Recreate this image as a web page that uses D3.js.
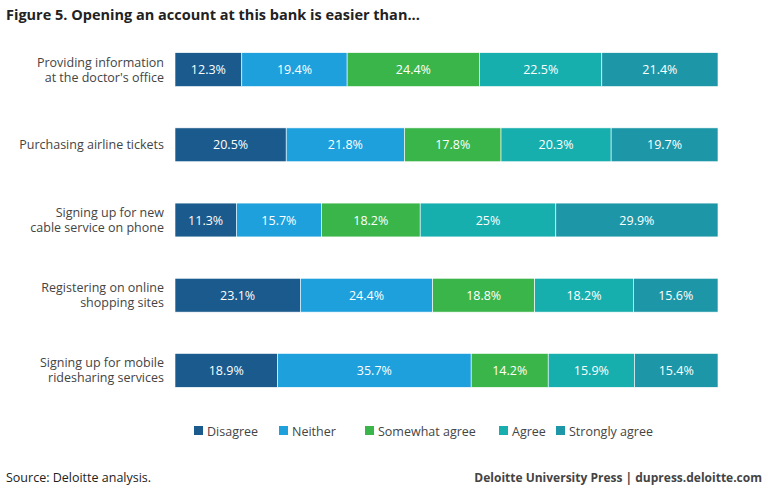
<!DOCTYPE html>
<html><head><meta charset="utf-8">
<script src="https://cdn.jsdelivr.net/npm/d3@7"></script>
<style>body{margin:0;background:#fff;font-family:"Open Sans",sans-serif;}</style>
</head><body><svg id="c" width="768" height="488"></svg>
<script>
var categories = [["Providing information", "at the doctor's office"], ["Purchasing airline tickets"],
    ["Signing up for new", "cable service on phone"], ["Registering on online", "shopping sites"],
    ["Signing up for mobile", "ridesharing services"]];
var seriesNames = ["Disagree", "Neither", "Somewhat agree", "Agree", "Strongly agree"];
var colors = ["#1a5a8c", "#1ea0dc", "#3ab54a", "#17aeae", "#1d97a8"];
var values = [
    [12.3, 19.4, 24.4, 22.5, 21.4],
    [20.5, 21.8, 17.8, 20.3, 19.7],
    [11.3, 15.7, 18.2, 25, 29.9],
    [23.1, 24.4, 18.8, 18.2, 15.6],
    [18.9, 35.7, 14.2, 15.9, 15.4]
];

var svg = d3.select("#c");
svg.append("text").attr("x", 6).attr("y", 20).attr("font-size", 14.5).attr("font-weight", "bold")
    .attr("fill", "#222").text("Figure 5. Opening an account at this bank is easier than...");

var x = d3.scaleLinear().domain([0, 100]).range([175, 718]);
var y = d3.scaleBand().domain(d3.range(categories.length)).range([32, 408]).paddingInner(0.55).paddingOuter(0.275);

categories.forEach(function (cat, i) {
    var row = values[i], total = d3.sum(row), acc = 0;
    var g = svg.append("g");
    row.forEach(function (v, j) {
        var x0 = x(acc / total * 100), x1 = x((acc + v) / total * 100);
        acc += v;
        g.append("rect").attr("x", x0).attr("y", y(i)).attr("width", x1 - x0).attr("height", y.bandwidth())
            .attr("fill", colors[j]).attr("stroke", "#fff").attr("stroke-width", 0.6);
        g.append("text").attr("x", (x0 + x1) / 2).attr("y", y(i) + y.bandwidth() / 2 + 4.5)
            .attr("text-anchor", "middle").attr("font-size", 12.5).attr("fill", "#fff").text(v + "%");
    });
    var cy = y(i) + y.bandwidth() / 2 + 4.5 - (cat.length - 1) * 7.5;
    cat.forEach(function (line, k) {
        svg.append("text").attr("text-anchor", "end").attr("font-size", 12.5).attr("fill", "#444")
            .attr("x", 164).attr("y", cy + k * 15).text(line);
    });
});

var legendX = [194, 279, 365, 499, 556];
seriesNames.forEach(function (n, j) {
    svg.append("rect").attr("x", legendX[j]).attr("y", 426).attr("width", 9).attr("height", 9).attr("fill", colors[j]);
    svg.append("text").attr("x", legendX[j] + 13).attr("y", 435.5).attr("font-size", 12.5).attr("fill", "#444").text(n);
});

svg.append("text").attr("x", 6).attr("y", 482).attr("font-size", 12.5).attr("fill", "#222").text("Source: Deloitte analysis.");
svg.append("text").attr("x", 762).attr("y", 482).attr("text-anchor", "end").attr("font-size", 12)
    .attr("font-weight", "bold").attr("fill", "#444").text("Deloitte University Press  |  dupress.deloitte.com");
</script></body></html>
